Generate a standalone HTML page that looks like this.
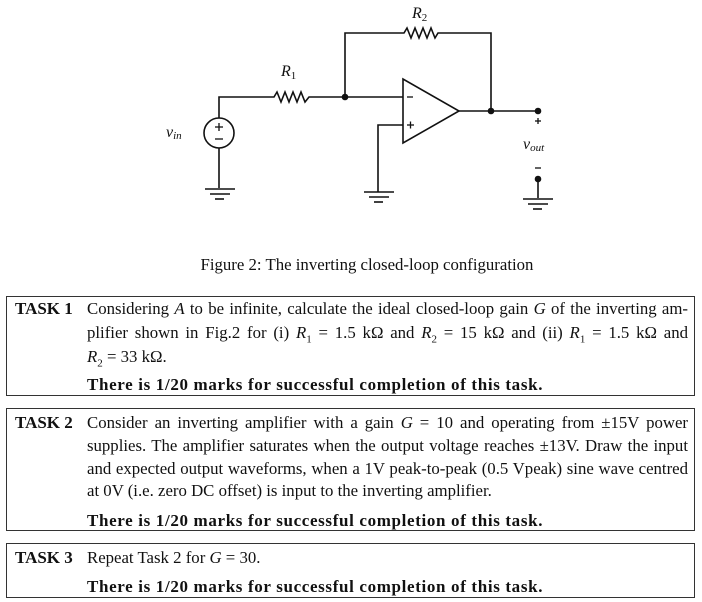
<!DOCTYPE html>
<html><head><style>
body{margin:0;width:702px;height:602px;background:#fff;position:relative;overflow:hidden;font-family:"Liberation Serif",serif;color:#111}
.box{position:absolute;left:6px;width:689px;border:1.5px solid #333;box-sizing:border-box}
.l{position:absolute;font-size:16.8px;white-space:nowrap;line-height:18px}
.j{left:87px;width:601px;text-align:justify;text-align-last:justify;white-space:normal;height:19px;overflow:hidden}
.t{left:15px;font-weight:bold;font-size:17px}
.b{left:87px;font-weight:bold;font-size:17px;letter-spacing:0.65px}
i{font-style:italic}
sub{font-size:11px;line-height:0}
</style></head><body>
<svg width="702" height="290" style="position:absolute;left:0;top:0" stroke="#111" stroke-width="1.6" fill="none">
<polyline points="345,97 345,33 404,33 407,28 411,38 415,28 419,38 423,28 427,38 431,28 435,38 438,33 491,33 491,111"/>
<polyline points="219,118 219,97 274,97 277,92 281,102 285,92 289,102 293,92 297,102 301,92 305,102 309,97 403,97"/>
<polygon points="403,79 403,143 459,111"/>
<line x1="459" y1="111" x2="538" y2="111"/>
<polyline points="403,125 378,125 378,192"/>
<circle cx="219" cy="133" r="15"/>
<line x1="219" y1="148" x2="219" y2="188"/>
<line x1="205" y1="189" x2="235" y2="189"/><line x1="210" y1="194" x2="230" y2="194"/><line x1="215" y1="199" x2="224" y2="199"/>
<line x1="364" y1="192" x2="394" y2="192"/><line x1="369" y1="197" x2="389" y2="197"/><line x1="374" y1="202" x2="383" y2="202"/>
<line x1="538" y1="179" x2="538" y2="198"/>
<line x1="523" y1="199" x2="553" y2="199"/><line x1="528" y1="204" x2="548" y2="204"/><line x1="533" y1="209" x2="542" y2="209"/>
<g fill="#111" stroke="none">
<circle cx="345" cy="97" r="3.3"/><circle cx="491" cy="111" r="3.3"/><circle cx="538" cy="111" r="3.3"/><circle cx="538" cy="179" r="3.3"/>
</g>
<g stroke-width="1.3">
<line x1="215" y1="127" x2="223" y2="127"/><line x1="219" y1="123" x2="219" y2="131"/>
<line x1="215" y1="139" x2="223" y2="139"/>
<line x1="407" y1="97" x2="413" y2="97"/>
<line x1="407" y1="125" x2="414" y2="125"/><line x1="410.5" y1="121.5" x2="410.5" y2="128.5"/>
<line x1="535" y1="121" x2="541" y2="121"/><line x1="538" y1="118" x2="538" y2="124"/>
<line x1="535" y1="168" x2="541" y2="168"/>
</g>
<g fill="#111" stroke="none" font-family="Liberation Serif,serif" font-style="italic" font-size="16">
<text x="412" y="18">R<tspan font-size="11" font-style="normal" dy="3">2</tspan></text>
<text x="281" y="76">R<tspan font-size="11" font-style="normal" dy="3">1</tspan></text>
<text x="166" y="137">v<tspan font-size="11" dy="2">in</tspan></text>
<text x="523" y="149">v<tspan font-size="11" dy="2">out</tspan></text>
</g>
<text x="367" y="270" text-anchor="middle" fill="#111" stroke="none" font-family="Liberation Serif,serif" font-size="16.8">Figure 2:   The inverting closed-loop configuration</text>
</svg>
<div class="box" style="top:296px;height:100px"></div>
<div class="box" style="top:408px;height:123px"></div>
<div class="box" style="top:543px;height:55px"></div>

<div class="l t" style="top:300px">TASK 1</div>
<div class="l j" style="top:300px">Considering <i>A</i> to be infinite, calculate the ideal closed-loop gain <i>G</i> of the inverting am-</div>
<div class="l j" style="top:324px">plifier shown in Fig.2 for (i) <i>R</i><sub>1</sub> = 1.5 kΩ and <i>R</i><sub>2</sub> = 15 kΩ and (ii) <i>R</i><sub>1</sub> = 1.5 kΩ and</div>
<div class="l" style="top:348px;left:87px"><i>R</i><sub>2</sub> = 33 kΩ.</div>
<div class="l b" style="top:376px">There is 1/20 marks for successful completion of this task.</div>

<div class="l t" style="top:414px">TASK 2</div>
<div class="l j" style="top:414px">Consider an inverting amplifier with a gain <i>G</i> = 10 and operating from ±15V power</div>
<div class="l j" style="top:437px">supplies. The amplifier saturates when the output voltage reaches ±13V. Draw the input</div>
<div class="l j" style="top:460px">and expected output waveforms, when a 1V peak-to-peak (0.5 Vpeak) sine wave centred</div>
<div class="l" style="top:482px;left:87px">at 0V (i.e. zero DC offset) is input to the inverting amplifier.</div>
<div class="l b" style="top:512px">There is 1/20 marks for successful completion of this task.</div>

<div class="l t" style="top:549px">TASK 3</div>
<div class="l" style="top:549px;left:87px">Repeat Task 2 for <i>G</i> = 30.</div>
<div class="l b" style="top:578px">There is 1/20 marks for successful completion of this task.</div>
</body></html>
